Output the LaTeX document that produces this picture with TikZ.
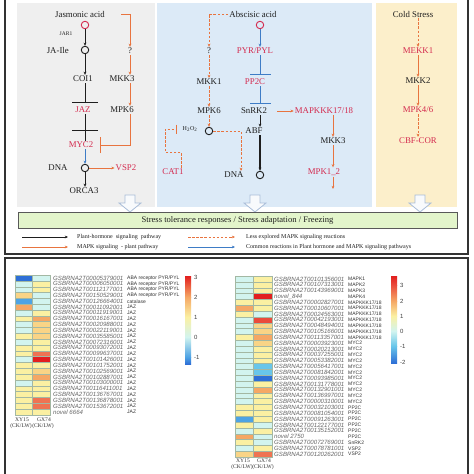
\documentclass[tikz,border=0pt]{standalone}
\usepackage{fontspec}
\setmainfont{Liberation Serif}
\newfontfamily\arialf{Liberation Sans}
\usetikzlibrary{arrows.meta,calc}
\definecolor{redt}{HTML}{D42A4E}
\definecolor{orgc}{HTML}{E8743F}
\definecolor{bluc}{HTML}{3E7CC6}
\definecolor{txt}{HTML}{1E1E1E}
\definecolor{pgray}{HTML}{EFEFEF}
\definecolor{pblue}{HTML}{DCEAF7}
\definecolor{pyel}{HTML}{FCEFCB}
\definecolor{gbox}{HTML}{E3F5CB}
\definecolor{harr}{HTML}{A9BDD8}
\definecolor{hmlc}{HTML}{D2F4EF}
\definecolor{hmly}{HTML}{FBF0A2}
\definecolor{hmlo}{HTML}{F9D486}
\definecolor{hmor}{HTML}{F5A765}
\definecolor{hmorr}{HTML}{EF7352}
\definecolor{hmrr}{HTML}{EA4B3C}
\definecolor{hmrd}{HTML}{E21F1F}
\definecolor{hmbl}{HTML}{2E6FD6}
\definecolor{hmmb}{HTML}{4EA3E4}
\definecolor{hmcb}{HTML}{68C6EA}
\definecolor{cellline}{HTML}{A3B8A3}
\newcommand\pyrl{ABA receptor PYR/PYL}
\newcommand\mkkkl{MAPKKK17/18}
\tikzset{
  lbl/.style={font=\fontsize{8.8}{9}\selectfont, text=txt, inner sep=1pt},
  rlbl/.style={lbl, text=redt},
  tinylbl/.style={font=\fontsize{5.5}{6}\selectfont, text=txt, inner sep=0.5pt},
  circ/.style={circle, draw=txt, line width=0.9pt, minimum size=7.5pt, inner sep=0pt},
  tip/.style={-{Stealth[length=3.2pt,width=2.8pt]}},
  blkl/.style={draw=txt, line width=0.75pt},
  blk/.style={blkl, tip},
  orgl/.style={draw=orgc, line width=0.75pt},
  org/.style={orgl, tip},
  orgd/.style={org, dash pattern=on 2.5pt off 1.6pt},
  blul/.style={draw=bluc, line width=0.75pt},
  blu/.style={blul, tip},
  harrow/.style={draw=harr, fill=white!92!harr, line width=0.8pt},
  leg/.style={font=\fontsize{6}{6}\selectfont, text=txt, inner sep=0pt, anchor=west},
  outerframe/.style={draw=black!80, line width=1.2pt},
  cellb/.style={draw=cellline, line width=0.3pt},
  gene/.style={font=\arialf\itshape\fontsize{6.1}{6}\selectfont, text=black!60, inner sep=0pt, anchor=west},
  catl/.style={font=\arialf\fontsize{5}{5}\selectfont, text=black!80, inner sep=0pt, anchor=west},
  tick/.style={font=\arialf\fontsize{6}{6}\selectfont, text=black!75, inner sep=0pt, anchor=west},
  coll/.style={font=\fontsize{5.6}{6}\selectfont, text=black!80, inner sep=0pt}
}
\newcommand\hollowdown[1]{\draw[harrow] (#1,195) ++(-5,0) -- ++(10,0) -- ++(0,8) -- ++(6,0) -- ++(-11,9) -- ++(-11,-9) -- ++(6,0) -- cycle;}
\begin{document}
\begin{tikzpicture}[x=1pt,y=-1pt]
\useasboundingbox (0,0) rectangle (474,474);
\clip (0,0) rectangle (474,474);
\fill[white] (0,0) rectangle (474,474);
% ===== top panel =====
\draw[outerframe] (5,-5) rectangle (468,254);
\fill[pgray] (17,3) rectangle (155,207);
\fill[pblue] (157,3) rectangle (372,207);
\fill[pyel] (376,3) rectangle (457,207);
% --- jasmonic acid ---
\node[lbl] (ja) at (80,14) {Jasmonic acid};
\node[circ, draw=redt] (c1) at (85,25) {};
\node[tinylbl] (jar1) at (66,34) {JAR1};
\node[circ] (c2) at (85,50) {};
\node[lbl, anchor=east] (jaile) at (70,50) {JA-Ile};
\node[lbl] (coi1) at (83,79) {COI1};
\node[rlbl] (jaz) at (83,110) {JAZ};
\node[rlbl] (myc2) at (81,145) {MYC2};
\node[circ] (c3) at (85,168) {};
\node[lbl] (dna1) at (58,168) {DNA};
\node[rlbl] (vsp2) at (126,168) {VSP2};
\node[lbl] (orca3) at (84,191) {ORCA3};
\node[lbl] (q1) at (130,51) {?};
\node[lbl] (mkk3a) at (122,79) {MKK3};
\node[lbl] (mpk6a) at (122,110) {MPK6};
\coordinate (jzm) at (85,131);
\draw[blk] (c1) -- (c2);
\draw[blk] (c2.south) -- (c2.south |- coi1.north);
\draw[blkl, -{Bar[width=26pt]}] (coi1.south -| c2) -- ([yshift=3pt]jaz.north -| c2);
\draw[blkl, -{Bar[width=26pt]}] (jaz.south -| c2) -- (jzm);
\draw[blkl] (jzm) -- (myc2.north -| c2);
\draw[blu] (myc2.south -| c3) -- (c3);
\draw[org] (c3) -- (vsp2);
\draw[blk] (c3) -- (orca3.north -| c3);
\draw[org] ([xshift=15pt]ja.east) -| (q1);
\draw[org] (q1) -- (q1 |- mkk3a.north);
\draw[org] (mkk3a.south -| q1) -- (mpk6a.north -| q1);
\draw[orgl, -{Bar[width=16pt]}] (mpk6a.south -| q1) |- ([xshift=6pt]myc2.east);
% --- abscisic acid ---
\node[lbl] (aba) at (253,14) {Abscisic acid};
\node[circ, draw=redt] (c4) at (260,25) {};
\node[rlbl] (pyr) at (255,51) {PYR/PYL};
\node[rlbl] (pp2c) at (255,82) {PP2C};
\node[lbl] (snrk2) at (254,111) {SnRK2};
\node[lbl] (abf) at (254,131) {ABF};
\node[circ] (c5) at (260,175) {};
\node[lbl] (dna2) at (234,175) {DNA};
\node[rlbl] (mapkkk) at (324,111) {MAPKKK17/18};
\node[lbl] (mkk3b) at (333,141) {MKK3};
\node[rlbl] (mpk12) at (324,172) {MPK1\_2};
\coordinate (mpkend) at (333,189);
\node[lbl] (q2) at (209,51) {?};
\node[lbl] (mkk1) at (209,82) {MKK1};
\node[lbl] (mpk6b) at (209,111) {MPK6};
\node[circ] (c6) at (209,131) {};
\node[tinylbl, font=\fontsize{6}{6}\selectfont] (h2o2) at (190,129) {H\textsubscript{2}O\textsubscript{2}};
\node[rlbl] (cat1) at (173,172) {CAT1};
\coordinate (catA) at (165,152);
\draw[blu] (c4) -- (c4 |- pyr.north);
\draw[blul, -{Bar[width=21pt]}] (pyr.south -| c4) -- ([yshift=3pt]pp2c.north -| c4);
\draw[blul, -{Bar[width=21pt]}] (pp2c.south -| c4) -- ([yshift=3pt]snrk2.north -| c4);
\draw[blk] (snrk2.south -| c4) -- (abf.north -| c4);
\draw[blk, line width=1.4pt] (abf.south -| c4) -- (c5);
\draw[org] ([xshift=9pt]snrk2.east) -- (mapkkk.west);
\draw[org] (mapkkk.south -| mkk3b) -- (mkk3b.north);
\draw[org] (mkk3b.south) -- (mpk12.north -| mkk3b);
\draw[org] (mpk12.south -| mkk3b) -- (mpkend);
\draw[orgd] (aba.west) -| (q2);
\draw[orgd] (q2) -- (mkk1);
\draw[orgd] (mkk1) -- (mpk6b);
\draw[orgd] (mpk6b) -- (c6);
\draw[orgd] (c6) -| ([xshift=7pt]dna2.north);
\draw[orgl, dash pattern=on 2.5pt off 1.6pt, -{Bar[width=9pt]}] ([xshift=8pt]cat1.north) |- (catA) |- ([xshift=-5pt]h2o2.west);
% --- cold stress ---
\node[lbl] (cold) at (413,14) {Cold Stress};
\node[rlbl] (mekk1) at (418,51) {MEKK1};
\node[lbl] (mkk2) at (418,81) {MKK2};
\node[rlbl] (mpk46) at (418,110) {MPK4/6};
\node[rlbl] (cbf) at (418,141) {CBF-COR};
\draw[orgd] (cold.south -| mekk1) -- (mekk1);
\draw[org] (mekk1) -- (mkk2);
\draw[org] (mkk2) -- (mpk46);
\draw[orgd] (mpk46) -- (cbf);
% --- hollow arrows and result box ---
\hollowdown{130}
\hollowdown{255}
\hollowdown{420}
\node[draw=black!65, fill=gbox, line width=0.6pt, minimum width=439pt, minimum height=16pt, inner sep=0pt, font=\fontsize{8.6}{9}\selectfont, text=txt] (stress) at (237.5,220) {Stress tolerance responses / Stress adaptation / Freezing};
% --- legend ---
\coordinate (la1) at (22,237); \coordinate (lb1) at (68,237);
\coordinate (la2) at (22,247); \coordinate (lb2) at (68,247);
\coordinate (la3) at (188,237); \coordinate (lb3) at (235,237);
\coordinate (la4) at (188,247); \coordinate (lb4) at (235,247);
\draw[blk] (la1) -- (lb1);
\draw[org] (la2) -- (lb2);
\draw[orgd] (la3) -- (lb3);
\draw[blu] (la4) -- (lb4);
\node[leg] (lt1) at (77,237) {Plant-hormone\ \ signaling\ \ pathway};
\node[leg] (lt2) at (77,247) {MAPK signaling\ \ - plant pathway};
\node[leg] (lt3) at (246,237) {Less explored MAPK signaling reactions};
\node[leg] (lt4) at (246,247) {Common reactions in Plant hormone and MAPK signaling pathways};
% ===== bottom panel =====
\draw[outerframe] (5,258) rectangle (468,480);
% left heatmap
\foreach \a/\b [count=\i] in {bl/lc,lc/ly,lc/ly,lo/lc,mb/lc,or/lc,lc/ly,ly/or,lc/lo,lc/lo,ly/lo,lc/ly,ly/ly,ly/orr,lc/rd,ly/ly,ly/lo,ly/or,lc/ly,ly/ly,ly/ly,ly/orr,ly/orr,ly/ly}{
  \pgfmathsetmacro\yy{275+(\i-1)*5.83}
  \draw[cellb, fill=hm\a] (15,\yy) rectangle ++(17.5,5.83);
  \draw[cellb, fill=hm\b] (32.5,\yy) rectangle ++(17.5,5.83);
}
\foreach \g/\c [count=\i] in {GSBRNA2T00005379001/\pyrl,GSBRNA2T00006050001/\pyrl,GSBRNA2T00112177001/\pyrl,GSBRNA2T00150529001/\pyrl,GSBRNA2T00126664001/catalase,GSBRNA2T00011092001/JAZ,GSBRNA2T00011919001/JAZ,GSBRNA2T00016167001/JAZ,GSBRNA2T00020988001/JAZ,GSBRNA2T00022119001/JAZ,GSBRNA2T00035585001/JAZ,GSBRNA2T00072316001/JAZ,GSBRNA2T00093072001/JAZ,GSBRNA2T00099637001/JAZ,GSBRNA2T00101426001/JAZ,GSBRNA2T00101752001/JAZ,GSBRNA2T00102569001/JAZ,GSBRNA2T00102887001/JAZ,GSBRNA2T00103000001/JAZ,GSBRNA2T00116411001/JAZ,GSBRNA2T00136767001/JAZ,GSBRNA2T00136878001/JAZ,GSBRNA2T00153672001/JAZ,novel 6664/JAZ}{
  \pgfmathsetmacro\yy{275+(\i-0.5)*5.83}
  \node[gene] (lg\i) at (53,\yy) {\g};
  \node[catl] (lc\i) at (127,\yy) {\c};
}
\node[coll] (lx1) at (22,420) {XY15};
\node[coll] (lx2) at (44,420) {GX74};
\node[coll] (lk1) at (21,426.5) {(CK/LW)};
\node[coll] (lk2) at (43,426.5) {(CK/LW)};
% left colorbar
\shade[top color=hmrd, bottom color=hmor] (185,276) rectangle (191,297);
\shade[top color=hmor, bottom color=hmly] (185,297) rectangle (191,317);
\shade[top color=hmly, bottom color=hmlc] (185,317) rectangle (191,337);
\shade[top color=hmlc, bottom color=hmmb] (185,337) rectangle (191,357);
\shade[top color=hmmb, bottom color=hmbl] (185,357) rectangle (191,364);
\foreach \t/\y [count=\i] in {3/277,2/297,1/317,0/337,-1/357}{
  \node[tick] (ltk\i) at (194,\y) {\t};
}
% right heatmap
\foreach \a/\b [count=\i] in {lc/ly,lc/ly,lc/ly,lc/rd,ly/ly,or/ly,ly/lc,lc/rr,lc/lo,lc/lo,ly/or,lc/lo,lc/ly,lc/ly,lc/ly,lc/cb,lc/cb,lc/bl,lc/ly,lc/or,lc/ly,lc/ly,ly/ly,ly/ly,mb/ly,ly/lc,lc/ly,or/lc,ly/lc,lc/ly,lo/orr}{
  \pgfmathsetmacro\yy{276+(\i-1)*5.84}
  \draw[cellb, fill=hm\a] (235,\yy) rectangle ++(18.5,5.84);
  \draw[cellb, fill=hm\b] (253.5,\yy) rectangle ++(18.5,5.84);
}
\foreach \g/\c [count=\i] in {GSBRNA2T00101356001/MAPK1,GSBRNA2T00107313001/MAPK2,GSBRNA2T00143969001/MAPK3,novel\_844/MAPK4,GSBRNA2T00002827001/\mkkkl,GSBRNA2T00010607001/\mkkkl,GSBRNA2T00024563001/\mkkkl,GSBRNA2T00042193001/\mkkkl,GSBRNA2T00048494001/\mkkkl,GSBRNA2T00105166001/\mkkkl,GSBRNA2T00113357001/\mkkkl,GSBRNA2T00003923001/MYC2,GSBRNA2T00020213001/MYC2,GSBRNA2T00037255001/MYC2,GSBRNA2T00053382001/MYC2,GSBRNA2T00056417001/MYC2,GSBRNA2T00081842001/MYC2,GSBRNA2T00093985001/MYC2,GSBRNA2T00131778001/MYC2,GSBRNA2T00132901001/MYC2,GSBRNA2T00136997001/MYC2,GSBRNA2T00000310001/MYC2,GSBRNA2T00032103001/PP2C,GSBRNA2T00081054001/PP2C,GSBRNA2T00091263001/PP2C,GSBRNA2T00122177001/PP2C,GSBRNA2T00135152001/PP2C,novel 2750/PP2C,GSBRNA2T00072769001/SnRK2,GSBRNA2T00078781001/VSP2,GSBRNA2T00120262001/VSP2}{
  \pgfmathsetmacro\yy{276+(\i-0.5)*5.84}
  \node[gene] (rg\i) at (274,\yy) {\g};
  \node[catl] (rc\i) at (348,\yy) {\c};
}
\node[coll] (rx1) at (243,461) {XY15};
\node[coll] (rx2) at (264,461) {GX74};
\node[coll] (rk1) at (242,467.5) {(CK/LW)};
\node[coll] (rk2) at (263,467.5) {(CK/LW)};
% right colorbar
\shade[top color=hmrd, bottom color=hmrr] (391,276) rectangle (397,285);
\shade[top color=hmrr, bottom color=hmor] (391,285) rectangle (397,301);
\shade[top color=hmor, bottom color=hmly] (391,301) rectangle (397,316);
\shade[top color=hmly, bottom color=hmlc] (391,316) rectangle (397,331);
\shade[top color=hmlc, bottom color=hmcb] (391,331) rectangle (397,346);
\shade[top color=hmcb, bottom color=hmbl] (391,346) rectangle (397,363);
\foreach \t/\y [count=\i] in {3/285,2/301,1/316,0/331,-1/346,-2/362}{
  \node[tick] (rtk\i) at (400,\y) {\t};
}
\end{tikzpicture}
\end{document}
